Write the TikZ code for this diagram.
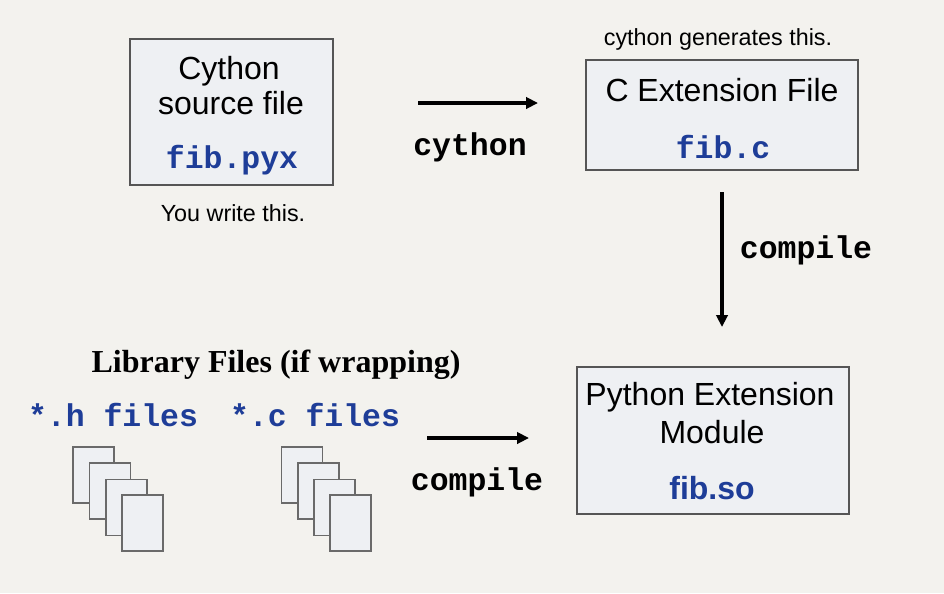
\documentclass[tikz,border=0pt]{standalone}
\usepackage{fontspec}
\setmainfont{Liberation Sans}
\newfontfamily\monob{Liberation Mono}[BoldFont={* Bold}]
\newfontfamily\serifb{Liberation Serif}
\usetikzlibrary{arrows.meta}
\definecolor{bg}{HTML}{F3F2EE}
\definecolor{boxfill}{HTML}{EEF0F3}
\definecolor{boxline}{HTML}{555555}
\definecolor{pageline}{HTML}{6A6A6A}
\definecolor{codeblue}{HTML}{1E3D98}
\tikzset{
  px/.style={x=0.75pt,y=-0.75pt},
  box/.style={draw=boxline,fill=boxfill,line width=1.1pt,inner sep=0pt,rectangle},
  page/.style={draw=pageline,fill=boxfill,line width=1.3pt,inner sep=0pt,rectangle,
    minimum width=41*0.75pt,minimum height=56*0.75pt},
  big/.style={font=\fontsize{24}{29}\selectfont,inner sep=0pt,anchor=base},
  small/.style={font=\fontsize{17.5}{21}\selectfont,inner sep=0pt,anchor=base},
  code/.style={font=\fontsize{23.6}{28}\selectfont\monob\bfseries,text=codeblue,inner sep=0pt,anchor=base},
  cmd/.style={font=\fontsize{23.6}{28}\selectfont\monob\bfseries,text=black,inner sep=0pt,anchor=base},
  bluebold/.style={font=\fontsize{24}{29}\selectfont\bfseries,text=codeblue,inner sep=0pt,anchor=base},
  heading/.style={font=\fontsize{24}{29}\selectfont\serifb\bfseries,inner sep=0pt,anchor=base},
  arr/.style={line width=2.5pt,-{Triangle[length=9pt,width=8.5pt]}}
}
\begin{document}
\begin{tikzpicture}[px]
\fill[bg] (0,0) rectangle (944,593);
\useasboundingbox (0,0) rectangle (944,593);

% boxes
\node[box,minimum width=203*0.75pt,minimum height=146*0.75pt] (src) at (231.5,112) {};
\node[box,minimum width=272*0.75pt,minimum height=110*0.75pt] (cext) at (722,115) {};
\node[box,minimum width=272*0.75pt,minimum height=147*0.75pt] (pyext) at (713,440.5) {};

% box texts
\node[big] (srcA) at (229,79) {Cython};
\node[big] (srcB) at (231,114) {source file};
\node[code] (srcC) at (232,168) {fib.pyx};
\node[big] (cextA) at (722,101) {C Extension File};
\node[code] (cextB) at (723,158) {fib.c};
\node[big] (pyA) at (710,405) {Python Extension};
\node[big] (pyB) at (712,443) {Module};
\node[bluebold] (pyC) at (712,499) {fib.so};

% notes
\node[small] (gen) at (718,45) {cython generates this.};
\node[small] (you) at (233,221) {You write this.};

% arrows
\coordinate (a1s) at (418,103);
\coordinate (a1e) at (538,103);
\coordinate (a2s) at (722,192);
\coordinate (a2e) at (722,327);
\coordinate (a3s) at (427,438);
\coordinate (a3e) at (529,438);
\draw[arr] (a1s) -- (a1e);
\draw[arr] (a2s) -- (a2e);
\draw[arr] (a3s) -- (a3e);
\node[cmd] (lcy) at (470,155) {cython};
\node[cmd] (lc1) at (806,258) {compile};
\node[cmd] (lc2) at (477,490) {compile};

% library files
\node[heading] (lib) at (276,372) {Library Files (if wrapping)};
\node[code] (hf) at (113,426) {*.h files};
\node[code] (cf) at (315,426) {*.c files};

% page stacks
\node[page] (h1) at (93.5,475) {};
\node[page] (h2) at (110,491.3) {};
\node[page] (h3) at (126.3,507.6) {};
\node[page] (h4) at (142.3,523) {};
\node[page] (c1) at (302,475) {};
\node[page] (c2) at (318.3,491.3) {};
\node[page] (c3) at (334.6,507.6) {};
\node[page] (c4) at (350.7,523) {};
\end{tikzpicture}
\end{document}
